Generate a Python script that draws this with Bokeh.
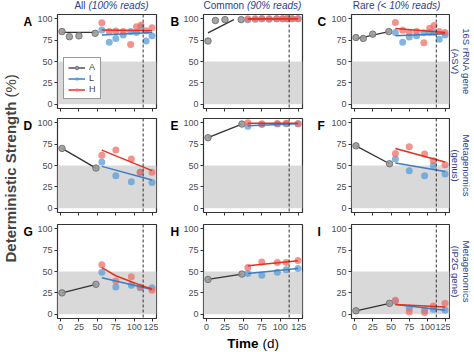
from math import pi
from bokeh.plotting import figure
from bokeh.models import Range1d, BoxAnnotation, Span, Label, Legend, LegendItem, FixedTicker
from bokeh.layouts import row, column
from bokeh.embed import file_html
from bokeh.resources import INLINE

# ---------------- data ----------------
days_a16 = [2, 12, 25, 47]          # phase A sampling days, 16S panels
days_a_meta = [2, 48]               # phase A sampling days, metagenomic panels
days_lh16 = [56, 66, 75, 85, 95, 103, 109, 116, 124]
days_lh_meta = [56, 75, 96, 108, 124]
fit_a16_x = [2, 47]
fit_a16_B_x = [2, 37]               # clipped at 100 in panel B
fit_a_meta_x = [2, 48]
fit_lh_x = [56, 124]
band = [0, 50]
switch_day = 112
x_ticks = [0, 25, 50, 75, 100, 125]
y_ticks = [0, 25, 50, 75, 100]

A_grey = [85, 79, 80, 83]
A_grey_fit = [84, 84]
A_L = [86.8, 72.5, 77, 81, 85, 84, 90, 74, 80]
A_H = [95.3, 85, 85.7, 85, 70, 90.7, 92.6, 86, 89.5]
A_L_fit = [81, 84]
A_H_fit = [87, 86]

B_grey = [74, 98, 99, 99]
B_grey_fit = [83.5, 99]
B_L = [99, 99.5, 100, 99.5, 100, 100, 100, 100, 100]
B_H = [100, 100, 100, 100, 100, 100, 100, 100, 100]
B_L_fit = [99.5, 100]
B_H_fit = [100, 100]

C_grey = [78, 77, 82, 85]
C_grey_fit = [76.5, 85]
C_L = [84, 72.5, 78.6, 80, 83.5, 84, 84, 76, 81]
C_H = [95.6, 86.6, 84, 85, 72, 89, 92, 85, 84]
C_L_fit = [80, 82.5]
C_H_fit = [88.5, 84]

D_grey = [70, 47]
D_L = [54, 38, 31, 42, 30]
D_H = [62, 68, 57.6, 42, 42]
D_L_fit = [49, 33]
D_H_fit = [68, 44]

E_grey = [82.5, 98.5]
E_L = [96, 98, 99, 99, 99]
E_H = [100, 99, 99, 99.5, 99]
E_L_fit = [96.5, 99]
E_H_fit = [99.5, 99.5]

F_grey = [73, 52]
F_L = [57.6, 44, 38, 50, 40]
F_H = [64, 72, 63.5, 55.6, 51]
F_L_fit = [53, 43]
F_H_fit = [70, 54]

G_grey = [25, 35]
G_L = [49, 32, 34, 31, 31]
G_H = [58, 39, 44, 32, 28]
G_L_fit = [42.6, 29]
G_H_fit = [54.5, 45, 38, 34, 29.5]   # curved fit, read at days_lh_meta

H_grey = [40.7, 47]
H_L = [47.7, 45.7, 49, 52, 53.5]
H_H = [54.6, 61, 60.5, 60.5, 62.8]
H_L_fit = [47.7, 53.5]
H_H_fit = [56.6, 62.6]

I_grey = [4, 12.7]
I_L = [15.4, 7, 4.6, 5.8, 5]
I_H = [16.5, 3, 2, 9.6, 12.7]
I_L_fit = [11.5, 4.6]
I_H_fit = [11.5, 8.5]

col_titles = [("All", "(100% reads)"), ("Common", "(90% reads)"), ("Rare", "(< 10% reads)")]
row_titles = [("16S rRNA gene", "(ASV)"), ("Metagenomics", "(genus)"), ("Metagenomics", "(IP2G gene)")]
letters = ["A", "B", "C", "D", "E", "F", "G", "H", "I"]
y_title = ("Deterministic Strength", "(%)")
x_title = ("Time", "(d)")

panels = [
    (days_a16, A_grey, fit_a16_x, A_grey_fit, days_lh16, A_L, A_H, fit_lh_x, A_L_fit, fit_lh_x, A_H_fit),
    (days_a16, B_grey, fit_a16_B_x, B_grey_fit, days_lh16, B_L, B_H, fit_lh_x, B_L_fit, fit_lh_x, B_H_fit),
    (days_a16, C_grey, fit_a16_x, C_grey_fit, days_lh16, C_L, C_H, fit_lh_x, C_L_fit, fit_lh_x, C_H_fit),
    (days_a_meta, D_grey, fit_a_meta_x, D_grey, days_lh_meta, D_L, D_H, fit_lh_x, D_L_fit, fit_lh_x, D_H_fit),
    (days_a_meta, E_grey, fit_a_meta_x, E_grey, days_lh_meta, E_L, E_H, fit_lh_x, E_L_fit, fit_lh_x, E_H_fit),
    (days_a_meta, F_grey, fit_a_meta_x, F_grey, days_lh_meta, F_L, F_H, fit_lh_x, F_L_fit, fit_lh_x, F_H_fit),
    (days_a_meta, G_grey, fit_a_meta_x, G_grey, days_lh_meta, G_L, G_H, fit_lh_x, G_L_fit, days_lh_meta, G_H_fit),
    (days_a_meta, H_grey, fit_a_meta_x, H_grey, days_lh_meta, H_L, H_H, fit_lh_x, H_L_fit, fit_lh_x, H_H_fit),
    (days_a_meta, I_grey, fit_a_meta_x, I_grey, days_lh_meta, I_L, I_H, fit_lh_x, I_L_fit, fit_lh_x, I_H_fit),
]

# ---------------- style / layout ----------------
FONT = "Liberation Sans"
NAVY = "#2b3d8f"
GREY_LINE = "#333333"
GREY_PT = "#9a9a9a"
BLUE_PT = "#5b9bd5"
RED_PT = "#ef6f67"
BLUE_LINE = "#3d7cc4"
RED_LINE = "#e0321f"
H_PAGE = 352

col_w = [125, 126, 122]
col_bl = [24, 22, 22]
col_br = [2, 4, 1]
row_h = [104, 104, 115]
row_bt = [1, 1, 3]
row_bb = [9, 9, 18]


def Y(page_y):
    return H_PAGE - page_y


def strip(width, height, x0, page_top):
    f = figure(width=width, height=height,
               x_range=Range1d(x0, x0 + width),
               y_range=Range1d(Y(page_top + height), Y(page_top)),
               output_backend="svg", toolbar_location=None,
               x_axis_location=None, y_axis_location=None,
               min_border_left=0, min_border_right=0, min_border_top=0, min_border_bottom=0)
    f.grid.visible = False
    f.outline_line_color = None
    f.background_fill_color = "white"
    return f


def txt(f, x, page_y, text, size, style="normal", align="left", color="black", angle=0.0):
    f.add_layout(Label(x=x, y=Y(page_y), text=text, text_font=FONT, text_font_size=size,
                       text_font_style=style, text_align=align, text_baseline="middle",
                       text_color=color, angle=angle))


panel_cols = [[], [], []]
for r in range(3):
    for c in range(3):
        k = r * 3 + c
        ax, ay, afx, afy, lx, L, H, lfx, lfy, hfx, hfy = panels[k]
        p = figure(width=col_w[c], height=row_h[r],
                   x_range=Range1d(-4.1, 130.1), y_range=Range1d(-5, 105),
                   output_backend="svg", toolbar_location=None,
                   min_border_left=col_bl[c], min_border_right=col_br[c],
                   min_border_top=row_bt[r], min_border_bottom=row_bb[r])
        p.grid.visible = False
        p.outline_line_color = "#333333"
        p.outline_line_width = 1.2
        p.background_fill_color = "white"
        p.border_fill_color = "white"
        for axis in (p.xaxis[0], p.yaxis[0]):
            axis.axis_line_color = None
            axis.major_tick_out = 3
            axis.major_tick_in = 0
            axis.minor_tick_out = 3
            axis.minor_tick_in = 0
            axis.major_tick_line_color = "#333333"
            axis.minor_tick_line_color = "#333333"
            axis.major_label_text_font = FONT
            axis.major_label_text_font_size = "9px"
            axis.major_label_text_color = "#4d4d4d"
            axis.major_label_standoff = 2
        p.yaxis.ticker = FixedTicker(ticks=y_ticks, minor_ticks=[])
        if r < 2:
            # tick marks without labels
            p.xaxis.ticker = FixedTicker(ticks=[], minor_ticks=x_ticks)
            p.xaxis.major_label_standoff = 0
        else:
            p.xaxis.ticker = FixedTicker(ticks=x_ticks, minor_ticks=[])

        p.add_layout(BoxAnnotation(bottom=band[0], top=band[1], fill_color="#d9d9d9",
                                   fill_alpha=1, line_color=None, level="underlay"))
        p.add_layout(Span(location=switch_day, dimension="height", line_color="#333333",
                          line_dash="3 2", line_width=1))

        g_line = p.line(afx, afy, line_color=GREY_LINE, line_width=1.3)
        g_pts = p.scatter(ax, ay, size=6.5, fill_color=GREY_PT, line_color="#707070",
                          fill_alpha=0.9, line_alpha=0.9)
        l_pts = p.scatter(lx, L, size=7, fill_color=BLUE_PT, line_color=None, fill_alpha=0.75)
        h_pts = p.scatter(lx, H, size=7, fill_color=RED_PT, line_color=None, fill_alpha=0.75)
        l_line = p.line(lfx, lfy, line_color=BLUE_LINE, line_width=1.5)
        h_line = p.line(hfx, hfy, line_color=RED_LINE, line_width=1.5)

        if k == 0:
            leg = Legend(items=[LegendItem(label="A", renderers=[g_line, g_pts]),
                                LegendItem(label="L", renderers=[l_line, l_pts]),
                                LegendItem(label="H", renderers=[h_line, h_pts])],
                         location=(6, 9), label_text_font=FONT, label_text_font_size="9px",
                         glyph_width=17, glyph_height=9, label_height=9, label_width=6,
                         label_standoff=4, spacing=1, padding=4, margin=0,
                         border_line_color="#333333", border_line_width=1,
                         background_fill_alpha=1)
            p.add_layout(leg)
        panel_cols[c].append(p)

# ---- text strips ----
side_h = sum(row_h)
top = strip(474, 13, 0, 0)
title_split = [(85, 88), (243.6, 246.4), (374, 376.7)]
for c in range(3):
    a, b = title_split[c]
    txt(top, a, 5, col_titles[c][0], "10px", align="right", color=NAVY)
    txt(top, b, 5, col_titles[c][1], "10px", style="italic", align="left", color=NAVY)

letter_rows = [21, 125, 231]
left = strip(33, side_h, 0, 13)
s2 = strip(22, side_h, 158, 13)
s3 = strip(22, side_h, 306, 13)
letter_x = [23, 170, 317]
for r in range(3):
    for c, f in enumerate([left, s2, s3]):
        txt(f, letter_x[c], letter_rows[r], letters[r * 3 + c], "12px", style="bold")

left.add_layout(Label(x=10, y=Y(262), text=y_title[0], text_font=FONT, text_font_size="15px",
                      text_font_style="bold", text_align="left", text_baseline="middle",
                      angle=pi / 2))
left.add_layout(Label(x=10, y=Y(97), text=y_title[1], text_font=FONT, text_font_size="15px",
                      text_align="left", text_baseline="middle", angle=pi / 2))

right = strip(24, side_h, 450, 13)
row_centers = [61, 165, 271]
for r in range(3):
    txt(right, 466, row_centers[r], row_titles[r][0], "9.5px", align="center", color=NAVY,
        angle=-pi / 2)
    txt(right, 455, row_centers[r], row_titles[r][1], "9.5px", align="center", color=NAVY,
        angle=-pi / 2)

bottom = strip(474, 16, 0, 336)
txt(bottom, 258, 343, x_title[0], "13.5px", style="bold", align="right")
txt(bottom, 262, 343, x_title[1], "13.5px", align="left")

middle = row(left, column(*panel_cols[0]), s2, column(*panel_cols[1]), s3,
             column(*panel_cols[2]), right)
layout = column(top, middle, bottom)
open("out.html", "w").write(file_html(layout, INLINE))
